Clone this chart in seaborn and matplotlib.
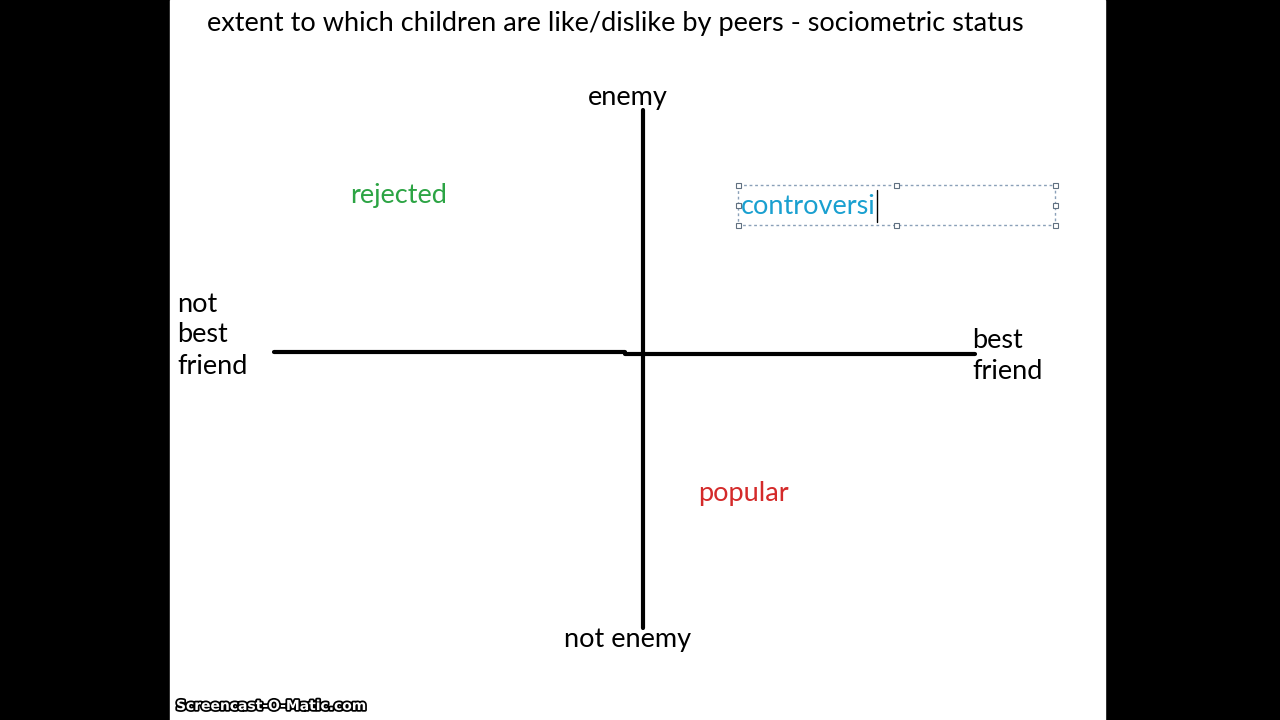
import seaborn as sns
import matplotlib.pyplot as plt
import matplotlib.patheffects as pe
import pandas as pd

sns.set_style("white")
plt.rcParams['font.family'] = ['Lato', 'DejaVu Sans']

title = "extent to which children are like/dislike by peers - sociometric status"
axis_labels = ["enemy", "not enemy", "not\nbest\nfriend", "best\nfriend"]
quadrants = ["rejected", "controversi", "popular"]
quadrant_colors = ["#2ca444", "#1aa0d0", "#d42a2a"]

# axis line segments in slide pixel coordinates
lines = pd.DataFrame({
    "seg": ["h1", "h1", "h2", "h2", "v", "v"],
    "x": [274, 625, 625, 975, 643, 643],
    "y": [352, 352, 354, 354, 110, 628],
})

fig = plt.figure(figsize=(12.8, 7.2), dpi=100)
fig.patch.set_facecolor("black")
ax = fig.add_axes([0, 0, 1, 1])
ax.set_xlim(0, 1280)
ax.set_ylim(720, 0)
ax.axis("off")
ax.add_patch(plt.Rectangle((170, 0), 935, 720, color="white", zorder=0))

sns.lineplot(data=lines, x="x", y="y", units="seg", estimator=None,
             color="black", linewidth=3, sort=False, ax=ax, legend=False)
ax.axis("off")

fs = 19.5
ax.text(207, 23, title, fontsize=fs, va="center", ha="left", color="black")
ax.text(628, 97, axis_labels[0], fontsize=fs, ha="center", va="center", color="black")
ax.text(628, 640, axis_labels[1], fontsize=fs, ha="center", va="center", color="black")
ax.text(177, 335, axis_labels[2], fontsize=fs, ha="left", va="center",
        linespacing=1.3, color="black")
ax.text(972, 356, axis_labels[3], fontsize=fs, ha="left", va="center",
        linespacing=1.3, color="black")

ax.text(350, 196, quadrants[0], fontsize=fs, color=quadrant_colors[0], va="center")
ax.text(741, 206, quadrants[1], fontsize=fs, color=quadrant_colors[1], va="center")
ax.text(698, 493, quadrants[2], fontsize=fs, color=quadrant_colors[2], va="center")

# text box selection frame
ax.add_patch(plt.Rectangle((738, 185), 317, 40, fill=False, ec="#8aa0b8",
                           ls=(0, (2, 2)), lw=1))
for hx in (738, 896, 1055):
    for hy in (185, 205, 225):
        if hx == 896 and hy == 205:
            continue
        ax.add_patch(plt.Rectangle((hx - 2.5, hy - 2.5), 5, 5, fc="white",
                                   ec="#607080", lw=0.8))
ax.plot([877, 877], [190, 222], color="black", lw=1)

ax.text(176, 706, "Screencast-O-Matic.com", fontsize=10, fontweight="bold",
        color="white", va="center", family=["DejaVu Sans"],
        path_effects=[pe.withStroke(linewidth=2.5, foreground="black")])

fig.savefig("out.png", dpi=100, facecolor="black")
